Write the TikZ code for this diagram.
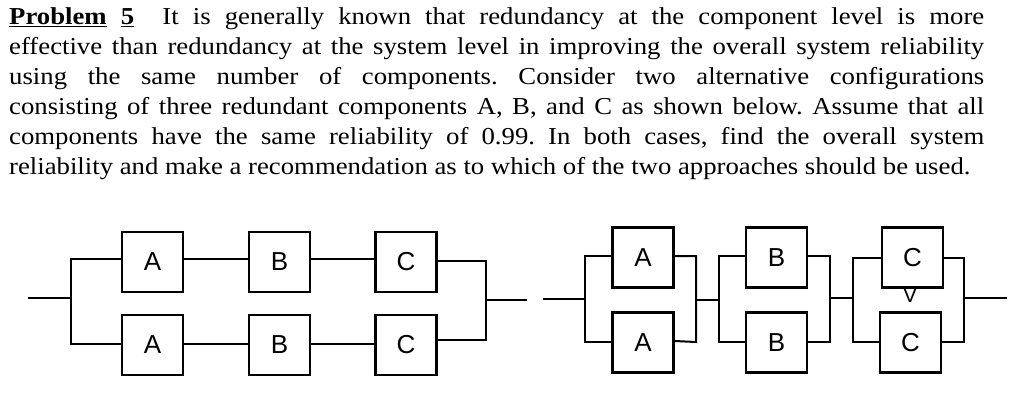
\documentclass[tikz,border=0pt]{standalone}
\usepackage{fontspec}
\setmainfont[FakeStretch=1.1]{Liberation Serif}
\newfontfamily\boxfont{Liberation Sans}
\begin{document}
\frenchspacing
\begin{tikzpicture}[x=1pt,y=-1pt,
  blk/.style={draw,line width=2.2pt,minimum width=61pt,minimum height=60pt,inner sep=0pt,font=\boxfont\fontsize{26}{26}\selectfont},
  wire/.style={line width=2pt}]
\useasboundingbox (0,0) rectangle (1024,408);
\node[anchor=north west,text width=975pt,align=justify,inner sep=0pt,font=\fontsize{24.3}{30}\selectfont] (txt) at (9,7)
{\textbf{\underline{Problem}\ \underline{5}}\ \ It is generally known that redundancy at the component level is more\linebreak
effective than redundancy at the system level in improving the overall system reliability\linebreak
using the same number of components. Consider two alternative configurations\linebreak
consisting of three redundant components A, B, and C as shown below. Assume that all\linebreak
components have the same reliability of 0.99. In both cases, find the overall system\linebreak
reliability and make a recommendation as to which of the two approaches should be used.};
% left diagram
\node[blk] (a1) at (152.5,262) {A};
\node[blk] (b1) at (279.5,262) {B};
\node[blk] (c1) at (406,262) {C};
\node[blk] (a2) at (152.5,345) {A};
\node[blk] (b2) at (279.5,345) {B};
\node[blk] (c2) at (406,345) {C};
\coordinate (lin) at (28,298);
\coordinate (lout) at (527,300);
\draw[wire] (a1.east |- 0,259) -- (b1.west |- 0,259) (b1.east |- 0,259) -- (c1.west |- 0,259);
\draw[wire] (a2.east |- 0,344) -- (b2.west |- 0,344) (b2.east |- 0,344) -- (c2.west |- 0,344);
\draw[wire] (a1.west |- 0,259) -| (71,344) -- (a2.west |- 0,344);
\draw[wire] (lin) -- (71,298);
\draw[wire] (c1.east |- 0,261) -| (486,340) -- (c2.east |- 0,340);
\draw[wire] (486,300) -- (lout);
% right diagram
\node[blk] (ra1) at (643,257.5) {A};
\node[blk] (ra2) at (643,342.5) {A};
\node[blk] (rb1) at (776.5,257.5) {B};
\node[blk] (rb2) at (776.5,342.5) {B};
\node[blk] (rc1) at (912.5,257.5) {C};
\node[blk] (rc2) at (910.5,342.5) {C};
\node[font=\boxfont\fontsize{21}{21}\selectfont,inner sep=0pt] (v) at (910,295) {V};
\coordinate (rin) at (543,299);
\coordinate (rout) at (1007,298);
\draw[wire] (rin) -- (585,299);
\draw[wire] (ra1.west |- 0,256) -| (585,342) -- (ra2.west |- 0,342);
\draw[wire] (ra1.east |- 0,256) -| (696,342) -- (ra2.east |- 0,341);
\draw[wire] (696,300) -- (719,300);
\draw[wire] (rb1.west |- 0,256) -| (719,342) -- (rb2.west |- 0,342);
\draw[wire] (rb1.east |- 0,256) -| (830,342) -- (rb2.east |- 0,342);
\draw[wire] (830,298) -- (853,298);
\draw[wire] (rc1.west |- 0,258) -| (853,342) -- (rc2.west |- 0,342);
\draw[wire] (rc1.east |- 0,258) -| (964,342) -- (rc2.east |- 0,342);
\draw[wire] (964,298) -- (rout);
\end{tikzpicture}
\end{document}
